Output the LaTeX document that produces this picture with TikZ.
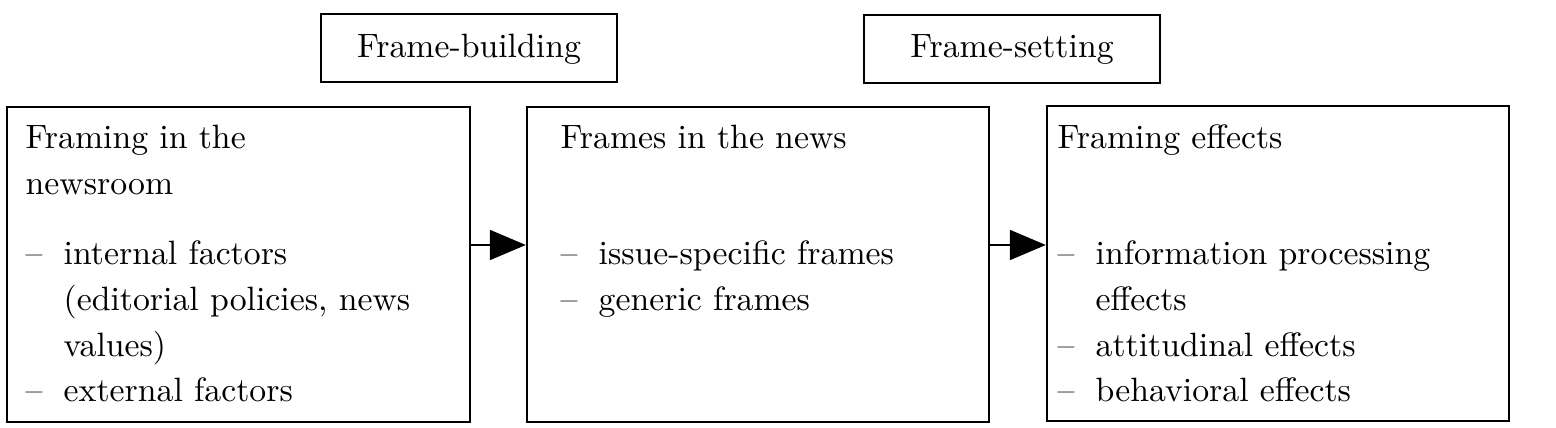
\documentclass[tikz,border=0pt]{standalone}
\usetikzlibrary{arrows.meta}
\begin{document}
\begin{tikzpicture}[x=0.01cm,y=-0.01cm,
    every node/.style={font=\fontsize{9.6}{12}\selectfont},
    stagebox/.style={draw, semithick, minimum width=2.96cm, minimum height=0.68cm, inner sep=0},
    newsbox/.style={draw, semithick, minimum width=4.62cm, minimum height=3.15cm, inner sep=0},
    txt/.style={anchor=base west, inner sep=0},
    flow/.style={semithick, -{Triangle[length=0.36cm,width=0.3cm]}}]
    \useasboundingbox (0,0) rectangle (1556,428);
    % stage labels on top
    \node[stagebox] (building) at (469,48) {};
    \node[txt, anchor=base] at (469,58) {Frame-building};
    \node[stagebox] (setting) at (1012,49) {};
    \node[txt, anchor=base] at (1012,58) {Frame-setting};
    % three main boxes
    \node[newsbox] (newsroom) at (238.5,264.5) {};
    \node[newsbox] (news) at (758,264.5) {};
    \node[newsbox] (effects) at (1278,263.5) {};
    % framing in the newsroom
    \node[txt] (t1a) at (25,149) {Framing in the};
    \node[txt] (t1b) at (25,195) {newsroom};
    \node[txt] (d1a) at (25,265) {--};
    \node[txt] (l1a) at (63,265) {internal factors};
    \node[txt] (l1b) at (63,311) {(editorial policies, news};
    \node[txt] (l1c) at (63,357) {values)};
    \node[txt] (d1b) at (25,402) {--};
    \node[txt] (l1d) at (63,402) {external factors};
    % frames in the news
    \node[txt] (t2a) at (560,149) {Frames in the news};
    \node[txt] (d2a) at (560,265) {--};
    \node[txt] (l2a) at (598,265) {issue-specific frames};
    \node[txt] (d2b) at (560,311) {--};
    \node[txt] (l2b) at (598,311) {generic frames};
    % framing effects
    \node[txt] (t3a) at (1057,149) {Framing effects};
    \node[txt] (d3a) at (1057,265) {--};
    \node[txt] (l3a) at (1095,265) {information processing};
    \node[txt] (l3b) at (1095,311) {effects};
    \node[txt] (d3b) at (1057,357) {--};
    \node[txt] (l3c) at (1095,357) {attitudinal effects};
    \node[txt] (d3c) at (1057,402) {--};
    \node[txt] (l3d) at (1095,402) {behavioral effects};
    % arrows
    \draw[flow] (newsroom.east |- 0,245) -- (news.west |- 0,245);
    \draw[flow] (news.east |- 0,245) -- (effects.west |- 0,245);
\end{tikzpicture}
\end{document}
